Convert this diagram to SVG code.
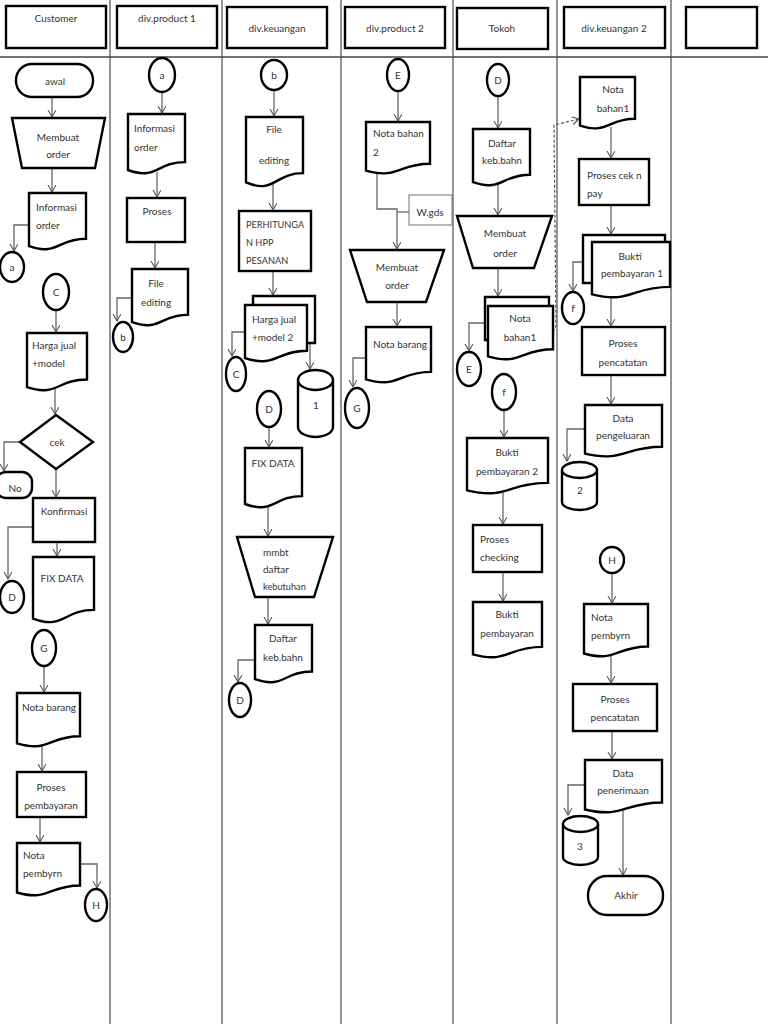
<svg xmlns="http://www.w3.org/2000/svg" width="768" height="1024" viewBox="0 0 768 1024">
<defs>
<marker id="ah" markerWidth="10" markerHeight="10" refX="7" refY="4" orient="auto" markerUnits="userSpaceOnUse">
<path d="M0,0 L7,4 L0,8" fill="none" stroke="#555" stroke-width="1.1"/>
</marker>
<style>
.s{fill:#fff;stroke:#000;stroke-width:2.4}
.c{fill:none;stroke:#666;stroke-width:1.3;marker-end:url(#ah)}
.n{fill:none;stroke:#666;stroke-width:1.3}
.d{fill:none;stroke:#555;stroke-width:1.2;stroke-dasharray:3 2;marker-end:url(#ah)}
.lane{stroke:#7a7a7a;stroke-width:1.6}
text{font-family:Lato,"Liberation Sans",sans-serif;font-size:10px;fill:#333}
.m{text-anchor:middle}
.sm{font-size:9.2px}
</style>
</defs>
<rect width="768" height="1024" fill="#fff"/>
<g id="lanes">
<line class="lane" x1="110" y1="0" x2="110" y2="1024"/>
<line class="lane" x1="222" y1="0" x2="222" y2="1024"/>
<line class="lane" x1="341" y1="0" x2="341" y2="1024"/>
<line class="lane" x1="453" y1="0" x2="453" y2="1024"/>
<line class="lane" x1="557" y1="0" x2="557" y2="1024"/>
<line class="lane" x1="671" y1="0" x2="671" y2="1024"/>
<line x1="0" y1="57" x2="768" y2="57" stroke="#444" stroke-width="1.6"/>
</g>
<g id="headers">
<g id="h-customer"><rect class="s" x="6" y="6" width="100" height="42"/><text class="m" x="56" y="22">Customer</text></g>
<g id="h-prod1"><rect class="s" x="117" y="6" width="100" height="42"/><text class="m" x="167" y="22">div.product 1</text></g>
<g id="h-keu"><rect class="s" x="227" y="7" width="100" height="41"/><text class="m" x="277" y="32">div.keuangan</text></g>
<g id="h-prod2"><rect class="s" x="345" y="7" width="100" height="41"/><text class="m" x="395" y="32">div.product 2</text></g>
<g id="h-tokoh"><rect class="s" x="457" y="8" width="91" height="41"/><text class="m" x="502" y="32">Tokoh</text></g>
<g id="h-keu2"><rect class="s" x="564" y="7" width="101" height="41"/><text class="m" x="614" y="32">div.keuangan 2</text></g>
<g id="h-empty"><rect class="s" x="686" y="7" width="71" height="41"/></g>
</g>
<g id="connectors">
<path class="c" d="M52,97 V117"/>
<path class="c" d="M52,168 V192"/>
<path class="c" d="M29,225 H14 V251"/>
<path class="c" d="M56,310 V332"/>
<path class="c" d="M55,389 V414"/>
<path class="c" d="M20,442 H4 V471"/>
<path class="c" d="M56,469 V497"/>
<path class="c" d="M33,527 H8 V579"/>
<path class="c" d="M57,542 V556"/>
<path class="c" d="M44,667 V692"/>
<path class="c" d="M42,746 V771"/>
<path class="c" d="M40,817 V842"/>
<path class="c" d="M80,864 H97 V888"/>
<path class="c" d="M162,92 V113"/>
<path class="c" d="M157,172 V197"/>
<path class="c" d="M155,242 V268"/>
<path class="c" d="M132,298 H117 V321"/>
<path class="c" d="M274,90 V116"/>
<path class="c" d="M273,184 V210"/>
<path class="c" d="M273,271 V295"/>
<path class="c" d="M245,332 H232 V356"/>
<path class="c" d="M310,343 V369"/>
<path class="c" d="M269,427 V447"/>
<path class="c" d="M268,506 V536"/>
<path class="c" d="M268,597 V624"/>
<path class="c" d="M255,660 H238 V682"/>
<path class="c" d="M398,91 V121"/>
<path class="c" d="M377,172 V209 H397 V249"/>
<path class="n" d="M409,212 H397"/>
<path class="c" d="M397,302 V326"/>
<path class="c" d="M366,358 H353 V387"/>
<path class="c" d="M498,96 V128"/>
<path class="c" d="M498,184 V215"/>
<path class="c" d="M498,268 V296"/>
<path class="c" d="M488,323 H469 V351"/>
<path class="d" d="M553,332 L556,326 L554,125 L579,119"/>
<path class="c" d="M504,410 V437"/>
<path class="c" d="M503,493 V524"/>
<path class="c" d="M503,572 V601"/>
<path class="c" d="M611,127 V158"/>
<path class="c" d="M611,205 V234"/>
<path class="c" d="M592,262 H573 V291"/>
<path class="c" d="M611,296 V326"/>
<path class="c" d="M611,375 V404"/>
<path class="c" d="M585,429 H567 V461"/>
<path class="c" d="M612,573 V603"/>
<path class="c" d="M611,655 V683"/>
<path class="c" d="M612,731 V759"/>
<path class="c" d="M585,785 H568 V815"/>
<path class="c" d="M623,808 V875"/>
</g>
<g id="customer-lane">
<g id="awal"><rect class="s" x="16" y="64" width="77" height="33" rx="16"/><text class="m" x="55" y="85">awal</text></g>
<g id="c-membuat"><polygon class="s" points="12,118 105,118 95,168 22,168"/><text class="m" x="58" y="141">Membuat</text><text class="m" x="58" y="158">order</text></g>
<g id="c-info"><path class="s" d="M29,193 H86 V238.7 C57.5,238.7 57.5,256.1 29,246.2 Z"/><text x="36" y="211">Informasi</text><text x="36" y="229">order</text></g>
<g id="c-a"><ellipse class="s" cx="12" cy="267" rx="12" ry="15"/><text class="m" x="12" y="271">a</text></g>
<g id="c-C"><ellipse class="s" cx="56" cy="292" rx="13" ry="18"/><text class="m" x="56" y="296">C</text></g>
<g id="c-harga"><path class="s" d="M27,333 H87 V379.5 C57,379.5 57,397.2 27,387.2 Z"/><text x="32" y="349">Harga jual</text><text x="32" y="367">+model</text></g>
<g id="c-cek"><polygon class="s" points="56,415 93,442 56,469 20,442"/><text class="m" x="57" y="446">cek</text></g>
<g id="c-no"><rect class="s" x="-4" y="472" width="36" height="26" rx="10"/><text class="m" x="15" y="492">No</text></g>
<g id="c-konf"><rect class="s" x="33" y="498" width="62" height="44"/><text class="m" x="64" y="515">Konfirmasi</text></g>
<g id="c-D"><ellipse class="s" cx="12" cy="597" rx="12" ry="16"/><text class="m" x="12" y="601">D</text></g>
<g id="c-fix"><path class="s" d="M33,557 H94 V609.9 C63.5,609.9 63.5,630.1 33,618.6 Z"/><text class="m" x="62" y="582">FIX DATA</text></g>
<g id="c-G"><ellipse class="s" cx="44" cy="648" rx="12" ry="18"/><text class="m" x="44" y="652">G</text></g>
<g id="c-notabarang"><path class="s" d="M17,693 H80 V736.3 C48.5,736.3 48.5,752.8 17,743.4 Z"/><text x="22" y="711">Nota barang</text></g>
<g id="c-proses"><rect class="s" x="17" y="772" width="69" height="45"/><text class="m" x="51" y="791">Proses</text><text class="m" x="51" y="809">pembayaran</text></g>
<g id="c-notapem"><path class="s" d="M17,843 H80 V885.5 C48.5,885.5 48.5,901.7 17,892.5 Z"/><text x="23" y="859">Nota</text><text x="23" y="877">pembyrn</text></g>
<g id="c-H"><ellipse class="s" cx="96" cy="905" rx="11" ry="16"/><text class="m" x="96" y="909">H</text></g>
</g>
<g id="prod1-lane">
<g id="p1-a"><ellipse class="s" cx="162" cy="75" rx="13" ry="17"/><text class="m" x="162" y="79">a</text></g>
<g id="p1-info"><path class="s" d="M128,114 H185 V162.1 C156.5,162.1 156.5,180.5 128,170 Z"/><text x="134" y="132">Informasi</text><text x="134" y="151">order</text></g>
<g id="p1-proses"><rect class="s" x="127" y="198" width="58" height="44"/><text class="m" x="157" y="215">Proses</text></g>
<g id="p1-file"><path class="s" d="M132,269 H188 V314.7 C160,314.7 160,332.1 132,322.2 Z"/><text class="m" x="156" y="287">File</text><text class="m" x="156" y="306">editing</text></g>
<g id="p1-b"><ellipse class="s" cx="123" cy="337" rx="10" ry="15"/><text class="m" x="123" y="341">b</text></g>
</g>
<g id="keu-lane">
<g id="k-b"><ellipse class="s" cx="274" cy="75" rx="13" ry="15"/><text class="m" x="274" y="79">b</text></g>
<g id="k-file"><path class="s" d="M246,117 H303 V173.1 C274.5,173.1 274.5,194.5 246,182.4 Z"/><text class="m" x="274" y="133">File</text><text class="m" x="274" y="164">editing</text></g>
<g id="k-hpp"><rect class="s" x="239" y="211" width="72" height="60"/><text class="sm" x="246" y="228">PERHITUNGA</text><text class="sm" x="246" y="246">N HPP</text><text class="sm" x="246" y="264">PESANAN</text></g>
<g id="k-harga"><path class="s" d="M253,305 V296 H315 V343 H307"/><path class="s" d="M245,305 H307 V350.7 C276,350.7 276,368.1 245,358.2 Z"/><text x="252" y="323">Harga jual</text><text x="252" y="341">+model 2</text></g>
<g id="k-C"><ellipse class="s" cx="236" cy="374" rx="10" ry="17"/><text class="m" x="236" y="378">C</text></g>
<g id="k-db1"><path class="s" d="M298,380 V427 A17.5,10 0 0 0 333,427 V380"/><ellipse class="s" cx="315.5" cy="380" rx="17.5" ry="10"/><text class="m" x="316" y="409">1</text></g>
<g id="k-D"><ellipse class="s" cx="269" cy="409" rx="12" ry="18"/><text class="m" x="269" y="413">D</text></g>
<g id="k-fix"><path class="s" d="M245,448 H302 V496.1 C273.5,496.1 273.5,514.5 245,504 Z"/><text class="m" x="273" y="467">FIX DATA</text></g>
<g id="k-mmbt"><polygon class="s" points="237,537 333,537 314,597 255,597"/><text x="263" y="556">mmbt</text><text x="263" y="573">daftar</text><text class="sm" x="263" y="590">kebutuhan</text></g>
<g id="k-daftar"><path class="s" d="M255,625 H312 V671.5 C283.5,671.5 283.5,689.2 255,679.2 Z"/><text class="m" x="283" y="642">Daftar</text><text class="m" x="283" y="661">keb.bahn</text></g>
<g id="k-D2"><ellipse class="s" cx="240" cy="700" rx="11" ry="17"/><text class="m" x="240" y="704">D</text></g>
</g>
<g id="prod2-lane">
<g id="p2-E"><ellipse class="s" cx="398" cy="75" rx="11" ry="16"/><text class="m" x="398" y="79">E</text></g>
<g id="p2-nota"><path class="s" d="M366,122 H430 V163.7 C398,163.7 398,179.6 366,170.6 Z"/><text x="373" y="137">Nota bahan</text><text x="373" y="156">2</text></g>
<g id="p2-wgds"><rect x="409" y="195" width="43" height="30" fill="#fff" stroke="#888" stroke-width="1.2"/><text class="m" x="430" y="216">W.gds</text></g>
<g id="p2-membuat"><polygon class="s" points="350,250 444,250 426,302 367,302"/><text class="m" x="397" y="271">Membuat</text><text class="m" x="397" y="289">order</text></g>
<g id="p2-notabarang"><path class="s" d="M366,327 H431 V371.9 C398.5,371.9 398.5,389 366,379.3 Z"/><text x="373" y="348">Nota barang</text></g>
<g id="p2-G"><ellipse class="s" cx="357" cy="408" rx="12" ry="20"/><text class="m" x="357" y="412">G</text></g>
</g>
<g id="tokoh-lane">
<g id="t-D"><ellipse class="s" cx="498" cy="80" rx="11" ry="16"/><text class="m" x="498" y="84">D</text></g>
<g id="t-daftar"><path class="s" d="M473,129 H530 V174.7 C501.5,174.7 501.5,192.1 473,182.2 Z"/><text class="m" x="502" y="147">Daftar</text><text class="m" x="502" y="164">keb.bahn</text></g>
<g id="t-membuat"><polygon class="s" points="457,216 552,216 534,268 473,268"/><text class="m" x="505" y="237">Membuat</text><text class="m" x="505" y="257">order</text></g>
<g id="t-nota"><path class="s" d="M488,340 H485 V297 H549 V306"/><path class="s" d="M488,306 H553 V349.3 C520.5,349.3 520.5,365.8 488,356.4 Z"/><text class="m" x="520" y="322">Nota</text><text class="m" x="520" y="341">bahan1</text></g>
<g id="t-E"><ellipse class="s" cx="469" cy="369" rx="12" ry="17"/><text class="m" x="469" y="373">E</text></g>
<g id="t-f"><ellipse class="s" cx="504" cy="392" rx="12" ry="18"/><text class="m" x="504" y="396">f</text></g>
<g id="t-bukti2"><path class="s" d="M467,438 H548 V482.9 C507.5,482.9 507.5,500 467,490.3 Z"/><text class="m" x="507" y="456">Bukti</text><text class="m" x="507" y="475">pembayaran 2</text></g>
<g id="t-checking"><rect class="s" x="473" y="525" width="69" height="47"/><text x="480" y="543">Proses</text><text x="480" y="561">checking</text></g>
<g id="t-bukti"><path class="s" d="M473,602 H542 V646.9 C507.5,646.9 507.5,664 473,654.3 Z"/><text class="m" x="507" y="618">Bukti</text><text class="m" x="507" y="637">pembayaran</text></g>
</g>
<g id="keu2-lane">
<g id="k2-nota"><path class="s" d="M580,77 H635 V118.7 C607.5,118.7 607.5,134.6 580,125.6 Z"/><text class="m" x="613" y="93">Nota</text><text class="m" x="613" y="112">bahan1</text></g>
<g id="k2-cek"><rect class="s" x="579" y="159" width="70" height="46"/><text x="587" y="179">Proses cek n</text><text x="587" y="197">pay</text></g>
<g id="k2-bukti1"><path class="s" d="M592,283 H583 V235 H665 V242"/><path class="s" d="M592,242 H670 V286.9 C631,286.9 631,304 592,294.3 Z"/><text class="m" x="630" y="260">Bukti</text><text class="m" x="632" y="277">pembayaran 1</text></g>
<g id="k2-f"><ellipse class="s" cx="573" cy="308" rx="11" ry="16"/><text class="m" x="573" y="312">f</text></g>
<g id="k2-catat1"><rect class="s" x="582" y="327" width="83" height="48"/><text class="m" x="623" y="347">Proses</text><text class="m" x="623" y="366">pencatatan</text></g>
<g id="k2-keluar"><path class="s" d="M585,405 H662 V446.7 C623.5,446.7 623.5,462.6 585,453.6 Z"/><text class="m" x="623" y="422">Data</text><text class="m" x="623" y="439">pengeluaran</text></g>
<g id="k2-db2"><path class="s" d="M562,470 V502 A17.5,8 0 0 0 597,502 V470"/><ellipse class="s" cx="579.5" cy="470" rx="17.5" ry="8"/><text class="m" x="580" y="494">2</text></g>
<g id="k2-H"><ellipse class="s" cx="612" cy="560" rx="12" ry="13"/><text class="m" x="612" y="564">H</text></g>
<g id="k2-pembyrn"><path class="s" d="M584,604 H648 V646.5 C616,646.5 616,662.7 584,653.5 Z"/><text x="591" y="621">Nota</text><text x="591" y="639">pembyrn</text></g>
<g id="k2-catat2"><rect class="s" x="573" y="684" width="84" height="47"/><text class="m" x="615" y="703">Proses</text><text class="m" x="615" y="721">pencatatan</text></g>
<g id="k2-terima"><path class="s" d="M585,760 H662 V802.5 C623.5,802.5 623.5,818.7 585,809.5 Z"/><text class="m" x="623" y="777">Data</text><text class="m" x="623" y="794">penerimaan</text></g>
<g id="k2-db3"><path class="s" d="M563,824 V857 A17.5,8 0 0 0 598,857 V824"/><ellipse class="s" cx="580.5" cy="824" rx="17.5" ry="8"/><text class="m" x="580" y="850">3</text></g>
<g id="k2-akhir"><rect class="s" x="588" y="876" width="75" height="39" rx="19"/><text class="m" x="626" y="899">Akhir</text></g>
</g>
</svg>
